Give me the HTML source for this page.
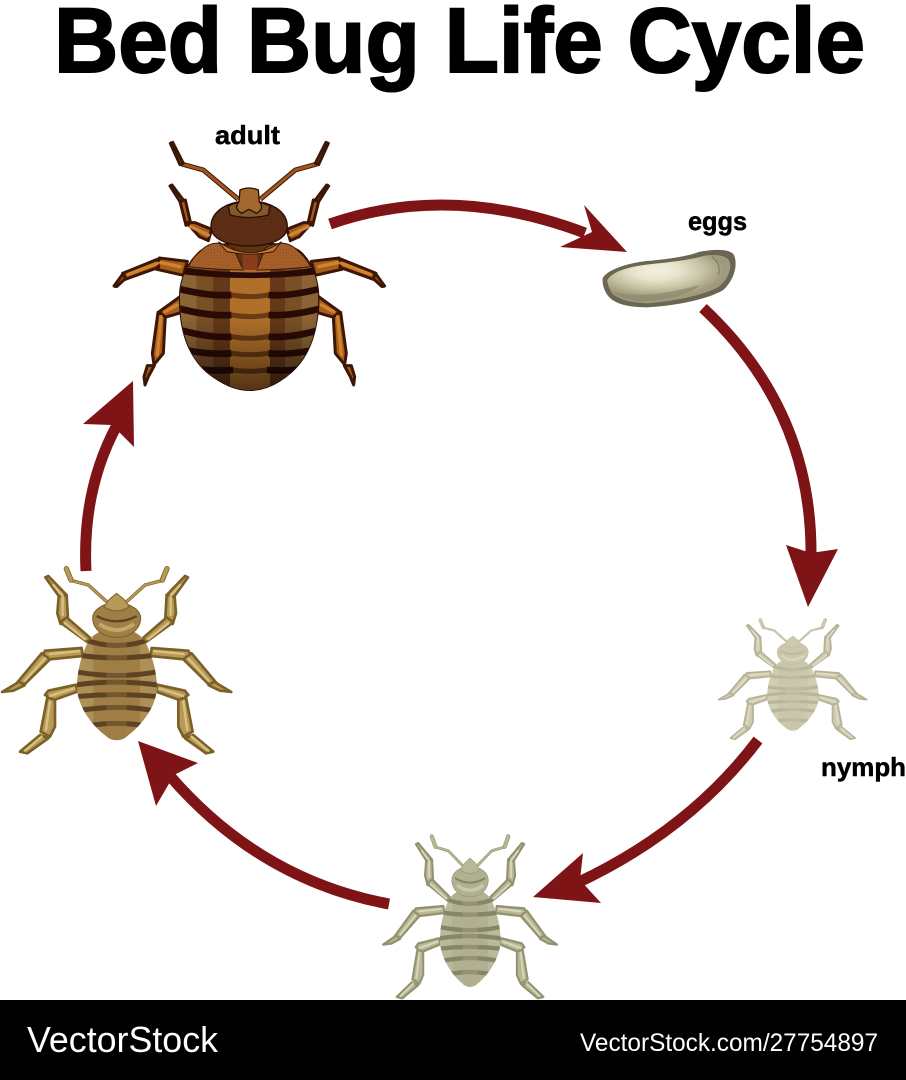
<!DOCTYPE html>
<html><head><meta charset="utf-8"><title>Bed Bug Life Cycle</title>
<style>
html,body{margin:0;padding:0;background:#fff}
svg{display:block}
text{font-family:"Liberation Sans",sans-serif}
.leg polygon{fill:var(--b);stroke:var(--a);stroke-width:8;stroke-linejoin:round}
.leg .hl{fill:none;stroke:var(--c);stroke-width:7;stroke-linecap:round;stroke-linejoin:round}
.leg .an1{fill:none;stroke:var(--a);stroke-width:10;stroke-linecap:round;stroke-linejoin:round}
.leg .an2{fill:none;stroke:var(--b);stroke-width:6;stroke-linecap:round;stroke-linejoin:round}
.al polygon{fill:#a85c1c;stroke:#3c1606;stroke-width:9;stroke-linejoin:round}
.al .hl{fill:none;stroke:#cf8430;stroke-width:10;stroke-linecap:round;stroke-linejoin:round}
.al .an1{fill:none;stroke:#3c1606;stroke-width:15;stroke-linejoin:round}
.al .an2{fill:none;stroke:#a0561c;stroke-width:9;stroke-linejoin:round}
.s{fill:none;stroke:#7e1416;stroke-width:11}
.h{fill:#7e1416}
</style></head>
<body>
<svg width="906" height="1080" viewBox="0 0 906 1080" xmlns="http://www.w3.org/2000/svg">
<defs>
<g id="nleg" class="leg">
  <path class="an1" d="M320 125L265 75L215 62"/><path class="an2" d="M320 125L265 75L215 62"/>
  <path class="an1" style="stroke-width:16" d="M213 60L199 26"/><path class="an2" style="stroke-width:11" d="M213 60L199 26"/>
  <polygon points="136,52 145,48 200,105 180,113"/>
  <polygon points="176,110 200,105 204,175 182,192 172,160"/>
  <polygon points="180,187 200,172 272,235 262,246"/>
  <polygon points="135,272 245,264 248,288 150,298 128,285"/>
  <polygon points="125,280 150,298 72,375 48,372"/>
  <polygon points="58,365 74,376 40,392 6,396"/>
  <polygon points="228,374 232,395 162,420 135,405 145,392"/>
  <polygon points="142,412 165,420 165,500 150,530 122,515"/>
  <polygon points="120,525 145,535 82,580 60,575"/>
  <path class="hl" d="M160 75L188 108L188 165M195 190L255 238M150 282L238 273M135 295L75 362M150 408L222 385M150 425L138 510M125 530L75 572"/>
</g>
<clipPath id="nab"><path d="M350 205C310 205 275 222 262 250C240 295 228 350 232 395C240 450 280 500 318 528C335 545 365 545 382 528C420 500 462 450 470 395C474 350 460 295 438 250C425 222 390 205 350 205Z"/></clipPath>
<g id="nbug">
  <use href="#nleg"/>
  <use href="#nleg" transform="translate(700 0) scale(-1 1)"/>
  <path d="M350 205C310 205 275 222 262 250C240 295 228 350 232 395C240 450 280 500 318 528C335 545 365 545 382 528C420 500 462 450 470 395C474 350 460 295 438 250C425 222 390 205 350 205Z" style="fill:var(--f)"/>
  <g clip-path="url(#nab)">
    <rect x="230" y="200" width="50" height="350" style="fill:var(--c)" opacity=".25"/>
    <rect x="420" y="200" width="52" height="350" style="fill:var(--c)" opacity=".25"/>
    <g fill="none" style="stroke:var(--d)" stroke-width="15">
      <path d="M250 238Q350 275 450 238"/>
      <path d="M230 285Q350 302 470 285"/>
      <path d="M225 335Q350 358 475 335"/>
      <path d="M225 375Q350 358 475 375"/>
      <path d="M225 410Q350 398 475 410"/>
      <path d="M235 452Q350 432 465 452"/>
      <path d="M260 498Q350 482 440 498"/>
    </g>
    <rect x="320" y="200" width="60" height="350" style="fill:var(--f)" opacity=".35"/>
  </g>
  <path d="M350 128C310 128 276 150 278 178C280 205 305 232 350 232C395 232 420 205 422 178C424 150 390 128 350 128Z" style="fill:var(--f);stroke:var(--e)" stroke-width="3"/>
  <path d="M290 168Q350 200 410 168" fill="none" style="stroke:var(--d)" stroke-width="7"/>
  <path d="M298 192Q350 228 402 192" fill="none" style="stroke:var(--c)" stroke-width="12" opacity=".6"/>
  <path d="M350 100L372 118L388 140Q350 165 312 140L328 118Z" style="fill:var(--b);stroke:var(--e)" stroke-width="3"/>
</g>
<g id="aleg" class="al">
  <path class="an1" d="M415 238L310 150L245 132"/><path class="an2" d="M415 238L310 150L245 132"/>
  <polygon points="211,70 218,67 250,130 240,134"/>
  <polygon points="210,198 216,195 250,240 242,248"/>
  <polygon points="240,245 256,240 272,310 258,316"/>
  <polygon points="260,308 285,308 335,328 325,362 298,350"/>
  <polygon points="262,424 178,414 170,448 250,466"/>
  <polygon points="172,418 176,442 76,478 68,460"/>
  <polygon points="70,460 76,476 50,500 42,498"/>
  <polygon points="243,528 243,578 195,592 178,575"/>
  <polygon points="174,577 196,590 190,700 162,734 157,700"/>
  <polygon points="142,737 163,737 145,770 135,795 132,770"/>
  <path class="hl" d="M272 320L325 345M182 428L240 440M172 430L85 463M195 575L232 555M183 590L172 705"/>
</g>
<clipPath id="aab"><path id="aabp" d="M300 395C250 440 238 500 240 540C240 620 260 700 320 755C370 795 410 810 450 810C490 810 530 795 575 755C635 700 655 620 655 530C655 490 640 430 600 395C560 360 340 360 300 395Z"/></clipPath>
<linearGradient id="dk" x1="0" y1="0" x2="0" y2="1"><stop offset=".4" stop-color="#000" stop-opacity="0"/><stop offset="1" stop-color="#000" stop-opacity=".55"/></linearGradient>
<pattern id="st" width="9" height="9" patternUnits="userSpaceOnUse"><circle cx="2" cy="2" r="1.1" fill="#2a0c04"/><circle cx="6.5" cy="6" r=".8" fill="#2a0c04"/></pattern>
<radialGradient id="eg" cx=".4" cy=".32" r=".55"><stop offset="0" stop-color="#f4f1e2"/><stop offset=".35" stop-color="#e8e4cc"/><stop offset=".7" stop-color="#c6c1a2"/><stop offset="1" stop-color="#9f9a7c"/></radialGradient>
</defs>

<rect width="906" height="1080" fill="#fff"/>

<text x="54" y="72" font-size="92" font-weight="700" fill="#000" stroke="#000" stroke-width="2" textLength="811" lengthAdjust="spacingAndGlyphs">Bed Bug Life Cycle</text>
<text x="215" y="144" font-size="26" font-weight="700" fill="#000" stroke="#000" stroke-width=".5" textLength="65" lengthAdjust="spacingAndGlyphs">adult</text>
<text x="688" y="230" font-size="26" font-weight="700" fill="#000" stroke="#000" stroke-width=".5" textLength="59" lengthAdjust="spacingAndGlyphs">eggs</text>
<text x="821" y="776" font-size="26" font-weight="700" fill="#000" stroke="#000" stroke-width=".5" textLength="85" lengthAdjust="spacingAndGlyphs">nymph</text>

<!-- arrows -->
<path class="s" d="M330 224Q450 182 585 233"/>
<polygon class="h" points="627,252 584,205 592,232 560,247"/>
<path class="s" d="M703 308Q812 410 811 555"/>
<polygon class="h" points="808,607 786,545 811,553 838,549"/>
<path class="s" d="M758 740Q690 830 577 883"/>
<polygon class="h" points="533,897 583,853 580,880 601,903"/>
<path class="s" d="M389 904Q260 880 170 776"/>
<polygon class="h" points="138,741 198,763 174,775 156,806"/>
<path class="s" d="M86 571Q82 490 117 425"/>
<polygon class="h" points="133,381 83,424 112,425 134,447"/>

<!-- adult -->
<g transform="translate(100 120) scale(.3333)">
  <use href="#aleg"/>
  <use href="#aleg" transform="translate(896 0) scale(-1 1)"/>
  <use href="#aabp" fill="#5a3514" stroke="#2a0c04" stroke-width="6"/>
  <g clip-path="url(#aab)">
    <rect x="235" y="440" width="55" height="380" fill="#8a6434"/>
    <rect x="290" y="440" width="50" height="380" fill="#785026"/>
    <rect x="340" y="440" width="50" height="380" fill="#643818"/>
    <rect x="390" y="440" width="120" height="380" fill="#b0702a"/>
    <rect x="510" y="440" width="45" height="380" fill="#643818"/>
    <rect x="555" y="440" width="50" height="380" fill="#785026"/>
    <rect x="605" y="440" width="55" height="380" fill="#8a6434"/>
    <g fill="none" stroke="#2a0a04" stroke-width="20">
      <path d="M230 505Q330 530 395 525M505 525Q570 530 665 505"/>
      <path d="M235 565Q330 590 395 585M505 585Q570 590 665 565"/>
      <path d="M240 630Q330 655 395 650M505 650Q570 655 660 630"/>
      <path d="M255 690Q330 705 395 700M505 700Q570 705 640 690"/>
      <path d="M280 745Q330 755 400 750M500 750Q570 755 620 745"/>
    </g>
    <g fill="none" stroke="#6a3a12" stroke-width="15">
      <path d="M395 525Q450 535 505 525M395 585Q450 595 505 585M395 650Q450 660 505 650M395 700Q450 708 505 700M400 750Q450 758 500 750"/>
    </g>
    <rect x="230" y="440" width="440" height="380" fill="url(#dk)"/>
    <path d="M240 440Q450 475 660 440L660 462Q450 487 240 462Z" fill="#2a0a04"/>
  </g>
  <path d="M300 395Q340 350 400 385L430 450Q350 450 265 440Q280 410 300 395Z" fill="#a8602a" stroke="#3c1606" stroke-width="3"/>
  <path d="M596 395Q556 350 496 385L470 450Q550 450 632 440Q616 410 596 395Z" fill="#a8602a" stroke="#3c1606" stroke-width="3"/>
  <path d="M300 395Q340 350 400 385L430 450Q350 450 265 440Q280 410 300 395Z" fill="url(#st)" opacity=".5"/>
  <path d="M596 395Q556 350 496 385L470 450Q550 450 632 440Q616 410 596 395Z" fill="url(#st)" opacity=".5"/>
  <path d="M428 395H472V450H428Z" fill="#8a3c1c"/>
  <path d="M355 365Q450 430 545 365L520 395Q450 410 380 395Z" fill="#c07c34" stroke="#3c1606" stroke-width="3"/>
  <path d="M447 243C385 243 333 272 333 320C333 355 380 378 447 378C515 378 562 355 562 320C562 272 510 243 447 243Z" fill="#5e2e16" stroke="#2a0c04" stroke-width="4"/>
  <path d="M447 243C385 243 333 272 333 320C333 355 380 378 447 378C515 378 562 355 562 320C562 272 510 243 447 243Z" fill="url(#st)" opacity=".7"/>
  <path d="M385 258Q447 228 510 258L505 285Q447 300 390 285Z" fill="#7e5a2c" stroke="#2a0c04" stroke-width="4"/>
  <path d="M420 210Q447 198 475 210L478 245Q495 265 470 280L447 268L425 280Q400 265 417 245Z" fill="#a3682e" stroke="#2a0c04" stroke-width="4"/>
</g>

<!-- eggs -->
<g transform="translate(590 200) scale(.3333)">
  <path d="M38 235C50 210 110 190 170 183C230 178 290 170 330 155C370 148 420 145 432 165C445 195 432 240 400 270C350 300 250 318 170 322C110 322 70 310 52 285C42 270 36 250 38 235Z" fill="#6b6653"/>
  <path d="M52 240C70 212 120 200 175 193C240 187 300 180 345 167C375 162 408 165 418 183C428 205 412 240 387 260C340 287 250 304 170 310C120 308 80 297 64 277C56 262 52 250 52 240Z" fill="url(#eg)"/>
  <path d="M70 275C120 290 200 290 330 255C300 285 220 300 160 305C120 302 85 295 70 275Z" fill="#8f8a6e" opacity=".75"/>
  <path d="M365 170Q395 190 385 225" fill="none" stroke="#7d7860" stroke-width="3"/>
</g>

<!-- nymph -->
<g transform="translate(717.5 614.5) scale(.215)" style="--a:#b5b298;--b:#cdcab0;--c:#e0dec9;--d:#b9b69a;--e:#c0bda0;--f:#cac7ac">
  <use href="#nbug"/>
</g>
<!-- grey-green -->
<g transform="translate(381.5 829) scale(.253 .292)" style="--a:#93926f;--b:#b8b796;--c:#d8d7bf;--d:#85856a;--e:#9d9c7e;--f:#b1b08f">
  <use href="#nbug"/>
</g>
<!-- tan -->
<g transform="translate(0 560) scale(.3333)" style="--a:#7c6028;--b:#b89a58;--c:#d8c282;--d:#5e4322;--e:#7c6028;--f:#9f7f46">
  <use href="#nbug"/>
</g>

<!-- footer -->
<rect x="0" y="1000" width="906" height="80" fill="#000"/>
<text x="27" y="1052" font-size="36" fill="#fff" textLength="191" lengthAdjust="spacingAndGlyphs">VectorStock</text>
<text x="580" y="1051" font-size="25" fill="#fff" textLength="298" lengthAdjust="spacingAndGlyphs">VectorStock.com/27754897</text>
</svg>
</body></html>
